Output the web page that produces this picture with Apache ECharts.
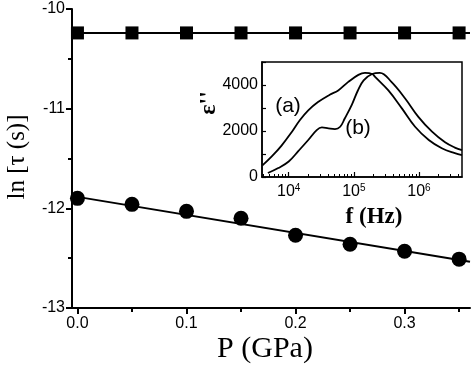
<!DOCTYPE html>
<html><head><meta charset="utf-8">
<script src="https://cdn.jsdelivr.net/npm/echarts@6/dist/echarts.min.js"></script>
<style>html,body{margin:0;padding:0;background:#fff}#c{width:474px;height:366px}</style>
</head><body><div id="c"></div>
<script>
// Main plot data
const pressure = [0, 0.05, 0.1, 0.15, 0.2, 0.25, 0.3, 0.35];
const lnTauSquares = [-10.24, -10.24, -10.24, -10.24, -10.24, -10.24, -10.24, -10.24];
const lnTauCircles = [-11.90, -11.96, -12.03, -12.10, -12.27, -12.36, -12.43, -12.51];
const squareLineX = [0, 0.36];
const squareLineY = [-10.24, -10.24];
const fitLineX = [0, 0.36];
const fitLineY = [-11.885, -12.535];
const mainXTickLabels = [0, 0.1, 0.2, 0.3];
const mainXMinorTicks = [0.05, 0.15, 0.25, 0.35];

// Inset data (x = log10 of f in Hz)
const insetLogFA = [3.597, 3.74, 3.89, 4.05, 4.17, 4.30, 4.45, 4.63, 4.76, 4.91, 5.07, 5.17, 5.28, 5.33, 5.53, 5.74, 5.94, 6.15, 6.35, 6.55, 6.66];
const insetEpsA  = [504, 892, 1366, 1970, 2470, 2900, 3260, 3577, 3763, 4124, 4440, 4525, 4480, 4340, 3763, 2974, 2185, 1608, 1250, 1034, 950];
const insetLogFB = [3.68, 3.84, 4.0, 4.15, 4.30, 4.43, 4.51, 4.61, 4.71, 4.79, 4.86, 4.97, 5.06, 5.15, 5.28, 5.40, 5.58, 5.79, 5.99, 6.20, 6.40, 6.55, 6.66];
const insetEpsB  = [172, 388, 676, 1135, 1608, 2040, 2155, 2112, 2083, 2185, 2543, 3150, 3750, 4200, 4480, 4530, 4124, 3405, 2616, 1970, 1508, 1280, 1170];
const insetXTickLabels = [4, 5, 6];
const insetYTickLabels = [0, 2000, 4000];
const insetYTicks = [0, 1000, 2000, 3000, 4000, 5000];

const insetMinor = [];
for (let n = 3; n <= 6; n++) for (let k = 2; k <= 9; k++) {
  const v = Math.log10(k * Math.pow(10, n));
  if (v > 3.59 && v < 6.66) insetMinor.push(v);
}

const zip = (a, b) => a.map((v, i) => [v, b[i]]);
const SANS = 'Liberation Sans, Arial, sans-serif';
const SERIF = 'Liberation Serif, Times New Roman, serif';

const chart = echarts.init(document.getElementById('c'), null, {renderer: 'canvas'});
chart.setOption({
  animation: false,
  backgroundColor: '#fff',
  grid: [
    {left: 72, top: 9, width: 398, height: 299, containLabel: false},
    {left: 262, top: 62, width: 200, height: 115, show: true, borderColor: '#000', borderWidth: 1.5, backgroundColor: '#fff', z: 5}
  ],
  xAxis: [
    {gridIndex: 0, type: 'value', min: -0.005, max: 0.36, position: 'bottom',
     axisLine: {show: true, onZero: false, lineStyle: {color: '#000', width: 2}},
     axisTick: {show: true, inside: false, length: 6, lineStyle: {width: 2, color: '#000'}, customValues: mainXTickLabels},
     axisLabel: {show: true, customValues: mainXTickLabels, margin: 8, color: '#000', fontSize: 16, fontFamily: SANS, formatter: v => v.toFixed(1)},
     splitLine: {show: false}},
    {gridIndex: 0, type: 'value', min: -0.005, max: 0.36, position: 'bottom',
     axisLine: {show: false, onZero: false},
     axisTick: {show: true, inside: false, length: 4, lineStyle: {width: 2, color: '#000'}, customValues: mainXMinorTicks},
     axisLabel: {show: false}, splitLine: {show: false}},
    {gridIndex: 1, type: 'value', min: 3.59, max: 6.66, position: 'bottom',
     axisLine: {show: true, onZero: false, lineStyle: {color: '#000', width: 1.5}},
     axisTick: {show: true, inside: true, length: 5, lineStyle: {width: 1.2, color: '#000'}, customValues: insetXTickLabels},
     axisLabel: {show: true, customValues: insetXTickLabels, margin: 6, color: '#000', fontFamily: SANS,
       formatter: v => '{b|10}{s|' + v + '}',
       rich: {b: {fontSize: 16, fontFamily: SANS, color: '#000', lineHeight: 18}, s: {fontSize: 10, fontFamily: SANS, color: '#000', verticalAlign: 'top', lineHeight: 10}}},
     splitLine: {show: false}, z: 6},
    {gridIndex: 1, type: 'value', min: 3.59, max: 6.66, position: 'bottom',
     axisLine: {show: false, onZero: false},
     axisTick: {show: true, inside: true, length: 3, lineStyle: {width: 1, color: '#000'}, customValues: insetMinor},
     axisLabel: {show: false}, splitLine: {show: false}, z: 6}
  ],
  yAxis: [
    {gridIndex: 0, type: 'value', min: -13, max: -10, interval: 1,
     axisLine: {show: true, onZero: false, lineStyle: {color: '#000', width: 2}},
     axisTick: {show: true, inside: false, length: 6, lineStyle: {width: 2, color: '#000'}},
     minorTick: {show: true, splitNumber: 2, length: 4, lineStyle: {width: 2, color: '#000'}},
     axisLabel: {color: '#000', fontSize: 16, fontFamily: SANS, margin: 7},
     splitLine: {show: false}},
    {gridIndex: 1, type: 'value', min: 0, max: 5000,
     axisLine: {show: true, onZero: false, lineStyle: {color: '#000', width: 1.5}},
     axisTick: {show: true, inside: true, length: 4, lineStyle: {width: 1.2, color: '#000'}, customValues: insetYTicks},
     axisLabel: {show: true, customValues: insetYTickLabels, margin: 4, color: '#000', fontSize: 16, fontFamily: SANS, formatter: v => String(v)},
     splitLine: {show: false}, z: 6}
  ],
  series: [
    {type: 'line', xAxisIndex: 0, yAxisIndex: 0, data: zip(squareLineX, squareLineY), showSymbol: false, lineStyle: {color: '#000', width: 2}, z: 2},
    {type: 'line', xAxisIndex: 0, yAxisIndex: 0, data: zip(fitLineX, fitLineY), showSymbol: false, lineStyle: {color: '#000', width: 2}, z: 2},
    {type: 'scatter', xAxisIndex: 0, yAxisIndex: 0, data: zip(pressure, lnTauSquares), symbol: 'rect', symbolSize: 13, itemStyle: {color: '#000', opacity: 1}, z: 3},
    {type: 'scatter', xAxisIndex: 0, yAxisIndex: 0, data: zip(pressure, lnTauCircles), symbol: 'circle', symbolSize: 15, itemStyle: {color: '#000', opacity: 1}, z: 3},
    {type: 'line', xAxisIndex: 2, yAxisIndex: 1, data: zip(insetLogFA, insetEpsA), smooth: 0.4, showSymbol: false, lineStyle: {color: '#000', width: 1.8}, z: 7},
    {type: 'line', xAxisIndex: 2, yAxisIndex: 1, data: zip(insetLogFB, insetEpsB), smooth: 0.4, showSymbol: false, lineStyle: {color: '#000', width: 1.8}, z: 7}
  ],
  graphic: [
    {type: 'text', x: 17, y: 157, rotation: Math.PI / 2, z: 10,
     style: {text: 'ln [τ (s)]', font: '25px ' + SERIF, fill: '#000', textAlign: 'center', textVerticalAlign: 'middle'}},
    {type: 'text', x: 265, y: 349, z: 10,
     style: {text: 'P (GPa)', font: '30px ' + SERIF, fill: '#000', textAlign: 'center', textVerticalAlign: 'middle'}},
    {type: 'text', x: 209, y: 103, rotation: Math.PI / 2, z: 10,
     style: {text: "ε''", font: 'bold 24px ' + SERIF, fill: '#000', textAlign: 'center', textVerticalAlign: 'middle'}},
    {type: 'text', x: 374, y: 217, z: 10,
     style: {text: 'f (Hz)', font: 'bold 23px ' + SERIF, fill: '#000', textAlign: 'center', textVerticalAlign: 'middle'}},
    {type: 'text', x: 288, y: 106, z: 10,
     style: {text: '(a)', font: '21px ' + SANS, fill: '#000', textAlign: 'center', textVerticalAlign: 'middle'}},
    {type: 'text', x: 358, y: 128, z: 10,
     style: {text: '(b)', font: '21px ' + SANS, fill: '#000', textAlign: 'center', textVerticalAlign: 'middle'}}
  ]
});
</script>
</body></html>
